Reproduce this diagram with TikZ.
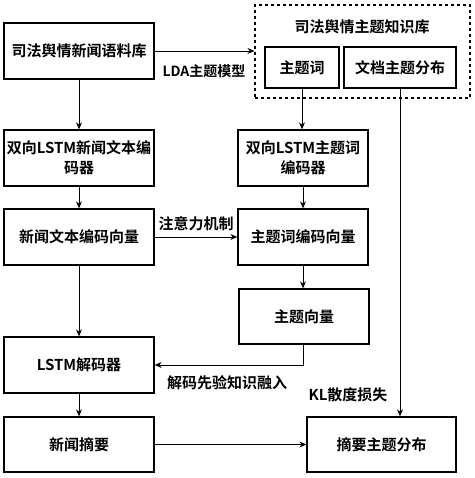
\documentclass[tikz,border=0pt]{standalone}
\usepackage{fontspec}
\setmainfont{Noto Sans CJK SC}[BoldFont={* Bold}]
\usetikzlibrary{arrows.meta}
\begin{document}
\begin{tikzpicture}[x=1pt,y=-1pt,
  box/.style={draw,line width=1.3pt,minimum width=150pt,minimum height=56pt,inner sep=1pt,align=center,font=\fontsize{15}{20}\selectfont\bfseries},
  lbl/.style={font=\fontsize{15}{18}\selectfont\bfseries,inner sep=0pt},
  arr/.style={-{Stealth[length=7pt,width=6pt]},line width=0.9pt}]
\useasboundingbox (0,0) rectangle (474,478);
\node[box] (corpus) at (79,51) {司法舆情新闻语料库};
\node[draw,dashed,line width=1.1pt,minimum width=215pt,minimum height=93pt,inner sep=0pt] (kb) at (362.5,51.5) {};
\node[lbl] (kbt) at (362,27) {司法舆情主题知识库};
\node[box,minimum width=74pt,minimum height=41pt] (tw) at (302,67.5) {主题词};
\node[box,minimum width=112pt,minimum height=41pt] (doc) at (400,67.5) {文档主题分布};
\node[lbl,font=\fontsize{14}{17}\selectfont\bfseries] (lda) at (204,71) {LDA主题模型};
\node[box] (enc) at (79,158) {双向LSTM新闻文本编\\码器};
\node[box,minimum width=130pt] (twenc) at (303,158) {双向LSTM主题词\\编码器};
\node[box] (vec) at (79,237) {新闻文本编码向量};
\node[box,minimum width=130pt] (twvec) at (303,237) {主题词编码向量};
\node[lbl] (att) at (196,224) {注意力机制};
\node[box,minimum width=130pt,minimum height=55pt] (tv) at (304,316.5) {主题向量};
\node[box] (dec) at (79,365) {LSTM解码器};
\node[lbl] (prior) at (227,383) {解码先验知识融入};
\node[box,minimum height=55pt] (sum) at (79,444.5) {新闻摘要};
\node[box,minimum width=149pt,minimum height=55pt] (sd) at (381.5,444.5) {摘要主题分布};
\node[lbl] (kl) at (348,395) {KL散度损失};
\draw[arr] (corpus.east) -- (kb.west |- corpus.east);
\draw[arr] (corpus) -- (enc);
\draw[arr] (enc) -- (vec);
\draw[arr] (vec) -- (dec);
\draw[arr] (dec) -- (sum);
\draw[arr] (sum) -- (sd);
\draw[arr] (tw.south) -- (tw.south |- twenc.north);
\draw[arr] (twenc) -- (twenc.south |- twvec.north);
\draw[arr] (vec) -- (twvec);
\draw[arr] (twvec.south) -- (twvec.south |- tv.north);
\draw[arr] (tv.south -| twvec.south) |- (dec.east);
\draw[arr] (doc.south) -- (doc.south |- sd.north);
\end{tikzpicture}
\end{document}
